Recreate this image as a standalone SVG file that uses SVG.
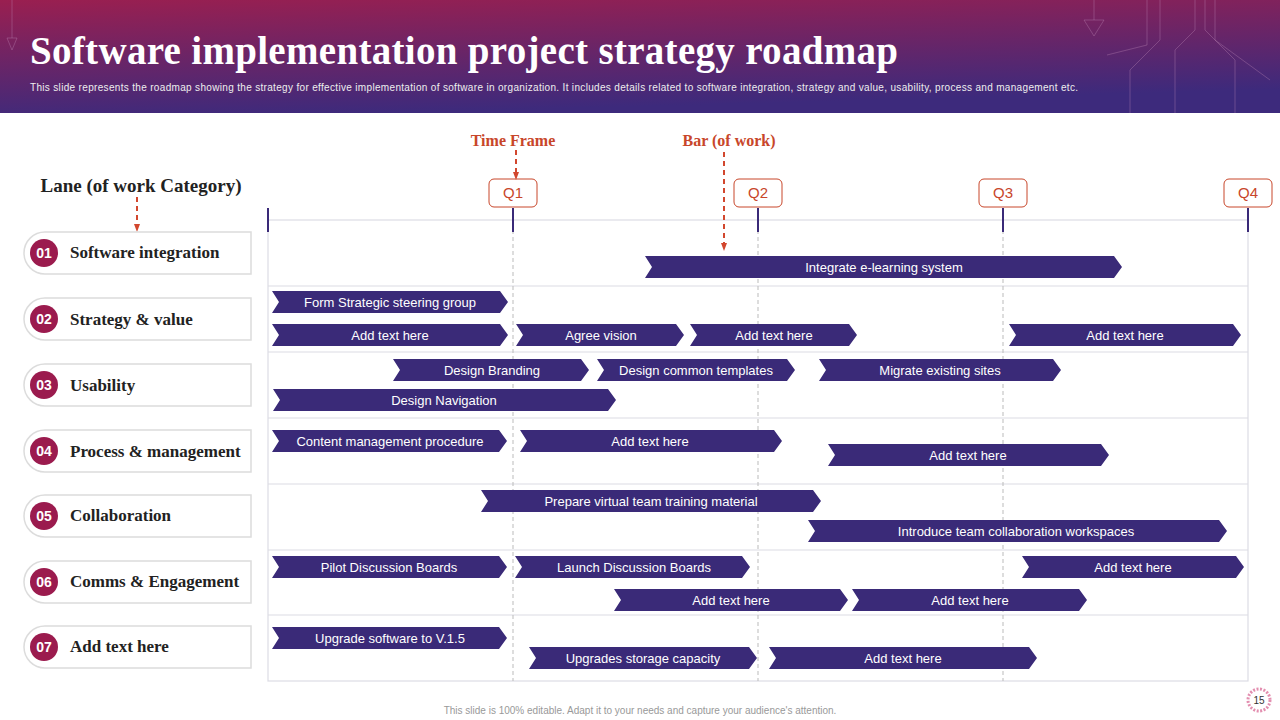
<svg xmlns="http://www.w3.org/2000/svg" width="1280" height="720" viewBox="0 0 1280 720">
<defs>
<linearGradient id="hg" x1="0" y1="0" x2="0.3" y2="1"><stop offset="0" stop-color="#9a1f50"/><stop offset="1" stop-color="#3d2a7c"/></linearGradient>
<marker id="ar" markerWidth="8" markerHeight="8" refX="4" refY="4" orient="auto" markerUnits="userSpaceOnUse"><path d="M0,1 L8,4 L0,7Z" fill="#d2472e"/></marker>
<style>
.bar{fill:#3a2a78}
.bt{font-family:"Liberation Sans",Arial,sans-serif;font-size:13px;fill:#fff;text-anchor:middle}
.lane{fill:#fff;stroke:#dcdcdc;stroke-width:1.5}
.num{font-family:"Liberation Sans",Arial,sans-serif;font-size:14px;font-weight:bold;fill:#fff;text-anchor:middle}
.lt{font-family:"Liberation Serif","Times New Roman",serif;font-size:17px;font-weight:bold;fill:#222}
.ann{font-family:"Liberation Serif","Times New Roman",serif;font-size:16px;font-weight:bold;fill:#c8462a;text-anchor:middle}
.q{fill:#fff;stroke:#c8462a;stroke-width:1}
.qt{font-family:"Liberation Sans",Arial,sans-serif;font-size:15px;fill:#c8462a;text-anchor:middle}
.grid{stroke:#dcdce4;stroke-width:1.2}
.qd{stroke:#bbb;stroke-width:1;stroke-dasharray:4 3}
.arr{stroke:#d2472e;stroke-width:2;stroke-dasharray:5 4;marker-end:url(#ar)}
</style>
</defs>
<rect width="1280" height="720" fill="#fff"/>
<rect width="1280" height="113" fill="url(#hg)"/>
<g stroke="#c08ab8" stroke-opacity="0.35" fill="none">
<path d="M12 0V38M7 38h10l-5 12z"/><path d="M1094 0V20M1084 20h20l-10 16z"/>
<path d="M1147 0V45l-40 10M1160 0V40l-30 30v43M1195 0v30l-20 20v63M1205 0v30l30 30v53M1215 0v40l55 40"/>
</g>
<text x="30" y="64" font-family="'Liberation Serif','Times New Roman',serif" font-size="39" font-weight="bold" fill="#fff" textLength="868">Software implementation project strategy roadmap</text>
<text x="30" y="91" font-family="'Liberation Sans',Arial,sans-serif" font-size="10" fill="#eee" textLength="1048">This slide represents the roadmap showing the strategy for effective implementation of software in organization. It includes details related to software integration, strategy and value, usability, process and management etc.</text>

<g id="grid">
<rect x="268" y="220" width="980" height="461" fill="none" class="grid"/>
<path class="grid" d="M268 286H1248M268 352H1248M268 418H1248M268 484H1248M268 550H1248M268 615H1248"/>
<path class="qd" d="M513 230V681M758 230V681M1003 230V681"/>
<path stroke="#3a2a78" stroke-width="2" d="M268 208V232M513 208V232M758 208V232M1003 208V232M1248 208V232"/>
</g>

<g id="quarters">
<rect class="q" x="489" y="179" width="48" height="28" rx="5"/><text class="qt" x="513" y="198">Q1</text>
<rect class="q" x="734" y="179" width="48" height="28" rx="5"/><text class="qt" x="758" y="198">Q2</text>
<rect class="q" x="979" y="179" width="48" height="28" rx="5"/><text class="qt" x="1003" y="198">Q3</text>
<rect class="q" x="1224" y="179" width="48" height="28" rx="5"/><text class="qt" x="1248" y="198">Q4</text>
</g>

<g id="annotations">
<text class="ann" x="513" y="146">Time Frame</text>
<text class="ann" x="729" y="146">Bar (of work)</text>
<text x="141" y="192" font-family="'Liberation Serif','Times New Roman',serif" font-size="19" font-weight="bold" fill="#222" text-anchor="middle">Lane (of work Category)</text>
</g>
<g id="connectors">
<line class="arr" x1="516" y1="150" x2="516" y2="176"/>
<line class="arr" x1="724" y1="152" x2="724" y2="247"/>
<line class="arr" x1="137" y1="197" x2="137" y2="228"/>
</g>

<g id="lanes">
<g id="lane1"><path class="lane" d="M45 232H251V274H45A21 21 0 0 1 45 232Z"/><circle cx="44" cy="253" r="14" fill="#9b1b4e"/><text class="num" x="44" y="258">01</text><text class="lt" x="70" y="258">Software integration</text></g>
<g id="lane2"><path class="lane" d="M45 298H251V340H45A21 21 0 0 1 45 298Z"/><circle cx="44" cy="319" r="14" fill="#9b1b4e"/><text class="num" x="44" y="324">02</text><text class="lt" x="70" y="325">Strategy &amp; value</text></g>
<g id="lane3"><path class="lane" d="M45 364H251V406H45A21 21 0 0 1 45 364Z"/><circle cx="44" cy="385" r="14" fill="#9b1b4e"/><text class="num" x="44" y="390">03</text><text class="lt" x="70" y="391">Usability</text></g>
<g id="lane4"><path class="lane" d="M45 430H251V472H45A21 21 0 0 1 45 430Z"/><circle cx="44" cy="451" r="14" fill="#9b1b4e"/><text class="num" x="44" y="456">04</text><text class="lt" x="70" y="457">Process &amp; management</text></g>
<g id="lane5"><path class="lane" d="M45 495H251V537H45A21 21 0 0 1 45 495Z"/><circle cx="44" cy="516" r="14" fill="#9b1b4e"/><text class="num" x="44" y="521">05</text><text class="lt" x="70" y="521">Collaboration</text></g>
<g id="lane6"><path class="lane" d="M45 561H251V603H45A21 21 0 0 1 45 561Z"/><circle cx="44" cy="582" r="14" fill="#9b1b4e"/><text class="num" x="44" y="587">06</text><text class="lt" x="70" y="587">Comms &amp; Engagement</text></g>
<g id="lane7"><path class="lane" d="M45 626H251V668H45A21 21 0 0 1 45 626Z"/><circle cx="44" cy="647" r="14" fill="#9b1b4e"/><text class="num" x="44" y="652">07</text><text class="lt" x="70" y="652">Add text here</text></g>
</g>

<g id="bars">
<g><path class="bar" d="M645 256H1114L1122 267L1114 278H645L652 267Z"/><text class="bt" x="884" y="272">Integrate e-learning system</text></g>
<g><path class="bar" d="M272 291H500L508 302L500 313H272L279 302Z"/><text class="bt" x="390" y="307">Form Strategic steering group</text></g>
<g><path class="bar" d="M272 324H500L508 335L500 346H272L279 335Z"/><text class="bt" x="390" y="340">Add text here</text></g>
<g><path class="bar" d="M516 324H676L684 335L676 346H516L523 335Z"/><text class="bt" x="601" y="340">Agree vision</text></g>
<g><path class="bar" d="M690 324H849L857 335L849 346H690L697 335Z"/><text class="bt" x="774" y="340">Add text here</text></g>
<g><path class="bar" d="M1009 324H1233L1241 335L1233 346H1009L1016 335Z"/><text class="bt" x="1125" y="340">Add text here</text></g>
<g><path class="bar" d="M393 359H581L589 370L581 381H393L400 370Z"/><text class="bt" x="492" y="375">Design Branding</text></g>
<g><path class="bar" d="M597 359H787L795 370L787 381H597L604 370Z"/><text class="bt" x="696" y="375">Design common templates</text></g>
<g><path class="bar" d="M819 359H1053L1061 370L1053 381H819L826 370Z"/><text class="bt" x="940" y="375">Migrate existing sites</text></g>
<g><path class="bar" d="M273 389H608L616 400L608 411H273L280 400Z"/><text class="bt" x="444" y="405">Design Navigation</text></g>
<g><path class="bar" d="M272 430H499L507 441L499 452H272L279 441Z"/><text class="bt" x="390" y="446">Content management procedure</text></g>
<g><path class="bar" d="M520 430H774L782 441L774 452H520L527 441Z"/><text class="bt" x="650" y="446">Add text here</text></g>
<g><path class="bar" d="M828 444H1101L1109 455L1101 466H828L835 455Z"/><text class="bt" x="968" y="460">Add text here</text></g>
<g><path class="bar" d="M481 490H813L821 501L813 512H481L488 501Z"/><text class="bt" x="651" y="506">Prepare virtual team training material</text></g>
<g><path class="bar" d="M808 520H1219L1227 531L1219 542H808L815 531Z"/><text class="bt" x="1016" y="536">Introduce team collaboration workspaces</text></g>
<g><path class="bar" d="M272 556H499L507 567L499 578H272L279 567Z"/><text class="bt" x="389" y="572">Pilot Discussion Boards</text></g>
<g><path class="bar" d="M515 556H742L750 567L742 578H515L522 567Z"/><text class="bt" x="634" y="572">Launch Discussion Boards</text></g>
<g><path class="bar" d="M1022 556H1236L1244 567L1236 578H1022L1029 567Z"/><text class="bt" x="1133" y="572">Add text here</text></g>
<g><path class="bar" d="M614 589H840L848 600L840 611H614L621 600Z"/><text class="bt" x="731" y="605">Add text here</text></g>
<g><path class="bar" d="M852 589H1079L1087 600L1079 611H852L859 600Z"/><text class="bt" x="970" y="605">Add text here</text></g>
<g><path class="bar" d="M272 627H499L507 638L499 649H272L279 638Z"/><text class="bt" x="390" y="643">Upgrade software to V.1.5</text></g>
<g><path class="bar" d="M529 647H749L757 658L749 669H529L536 658Z"/><text class="bt" x="643" y="663">Upgrades storage capacity</text></g>
<g><path class="bar" d="M769 647H1029L1037 658L1029 669H769L776 658Z"/><text class="bt" x="903" y="663">Add text here</text></g>
</g>

<text x="640" y="714" font-family="'Liberation Sans',Arial,sans-serif" font-size="10" fill="#999" text-anchor="middle">This slide is 100% editable. Adapt it to your needs and capture your audience's attention.</text>
<circle cx="1259" cy="700" r="11" fill="#fff" stroke="#e38fb0" stroke-width="3" stroke-dasharray="2 1.5"/>
<text x="1259" y="704" font-family="'Liberation Sans',Arial,sans-serif" font-size="10" fill="#333" text-anchor="middle">15</text>
</svg>
